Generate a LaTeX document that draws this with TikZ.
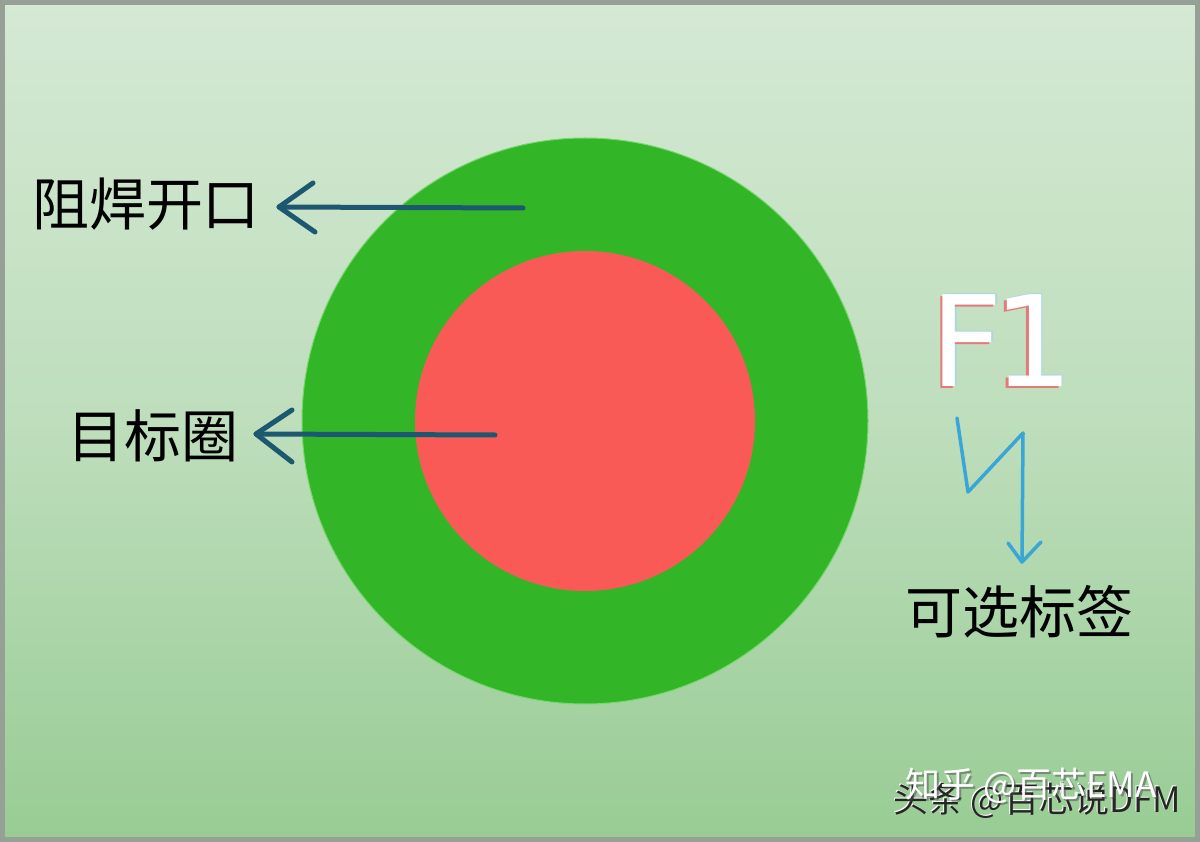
\documentclass[tikz,border=0pt]{standalone}
\usepackage{fontspec}
\newfontfamily\cjk{Noto Sans CJK SC}
\newfontfamily\dejavu{DejaVu Sans}
\definecolor{bgtop}{RGB}{213,233,212}
\definecolor{bgmid}{RGB}{190,222,188}
\definecolor{bgbot}{RGB}{152,204,148}
\definecolor{frame}{RGB}{150,160,150}
\definecolor{padgreen}{RGB}{50,182,40}
\definecolor{padedge}{RGB}{120,215,110}
\definecolor{targetred}{RGB}{250,90,86}
\definecolor{arrowteal}{RGB}{30,88,112}
\definecolor{zigblue}{RGB}{58,166,214}
\definecolor{fred}{RGB}{230,120,120}
\definecolor{fcyan}{RGB}{170,215,225}
\tikzset{
  lab/.style={inner sep=0pt, text=black, font=\cjk\fontsize{57}{60}\selectfont},
  pointer/.style={draw=arrowteal, line width=5pt, line cap=round, line join=round},
  zig/.style={draw=zigblue, line width=3.5pt, line cap=round, line join=round},
  f1text/.style={inner sep=0pt, font=\dejavu\fontsize{126}{126}\selectfont},
  wm/.style={inner sep=0pt, font=\cjk\fontsize{35}{35}\selectfont}
}
\begin{document}
\begin{tikzpicture}[x=1pt,y=-1pt]
\useasboundingbox (0,0) rectangle (1200,842);
% background
\shade[top color=bgtop, bottom color=bgbot, middle color=bgmid] (0,0) rectangle (1200,842);
\draw[frame, line width=5pt] (2.5,2.5) rectangle (1197.5,839.5);
% circles
\node[circle, fill=padgreen, draw=padedge, line width=1pt, minimum size=566pt, inner sep=0pt] (pad) at (585,421) {};
\node[circle, fill=targetred, minimum size=340pt, inner sep=0pt] (target) at (585,421) {};
% labels
\node[lab] (lmask) at (146,204) {阻焊开口};
\node[lab] (ltarget) at (153,436) {目标圈};
\node[lab] (loption) at (1019,612) {可选标签};
% arrow 1
\coordinate (a1s) at (523,208);
\coordinate (a1t) at (279,207);
\coordinate (a1u) at (313,183);
\coordinate (a1d) at (315,232);
\draw[pointer] (a1s) -- (a1t);
\draw[pointer] (a1u) -- (a1t) -- (a1d);
% arrow 2
\coordinate (a2s) at (495,435);
\coordinate (a2t) at (256,434);
\coordinate (a2u) at (292,410);
\coordinate (a2d) at (292,462);
\draw[pointer] (a2s) -- (a2t);
\draw[pointer] (a2u) -- (a2t) -- (a2d);
% F1 label
\node[f1text, text=fcyan] (f1c) at (1003.5,340) {F\kern-10pt 1};
\node[f1text, text=fred] (f1r) at (999.5,343) {F\kern-10pt 1};
\node[f1text, text=white] (f1) at (1002,341) {F\kern-10pt 1};
% zigzag arrow
\coordinate (z0) at (957,418);
\coordinate (z1) at (968,492);
\coordinate (z2) at (1023,433);
\coordinate (z3) at (1022,562);
\coordinate (zl) at (1008,543);
\coordinate (zr) at (1041,542);
\draw[zig] (z0) -- (z1) -- (z2) -- (z3);
\draw[zig] (zl) -- (z3) -- (zr);
% watermark
\node[wm, text=white] (wm2h) at (1036,800) {头条 @百芯说DFM};
\node[wm, text=black!85] (wm2) at (1037,801) {头条 @百芯说DFM};
\node[wm, text=gray!60!black, opacity=0.5] (wm1sh) at (1033,788) {知乎 @百芯EMA};
\node[wm, text=white] (wm1) at (1031,786) {知乎 @百芯EMA};
\end{tikzpicture}
\end{document}
